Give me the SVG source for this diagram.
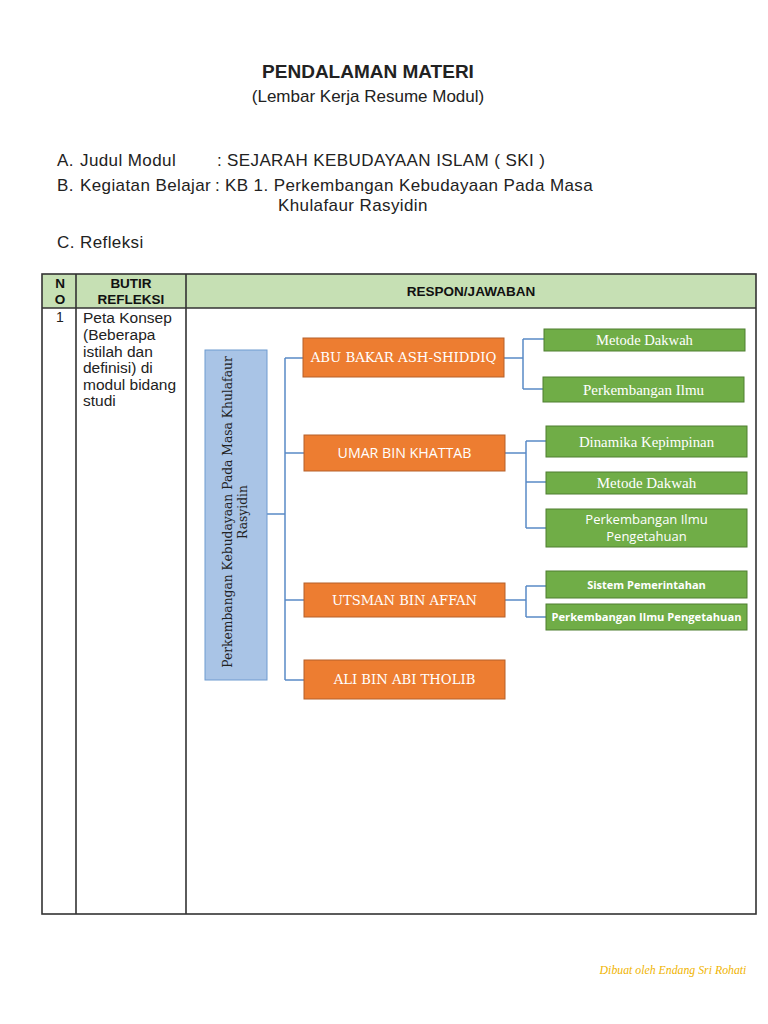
<svg xmlns="http://www.w3.org/2000/svg" width="768" height="1024" viewBox="0 0 768 1024">
<style>
.t{font-family:"Liberation Sans",Arial,sans-serif;fill:#222}
.b{font-size:17px;letter-spacing:0.4px}
.hd{font-family:"Liberation Sans",Arial,sans-serif;font-weight:bold;font-size:13.5px;fill:#111}
.grid{stroke:#333;stroke-width:1.6;fill:none}
.org{fill:#ed7d31;stroke:#b5602a;stroke-width:1}
.grn{fill:#70ad47;stroke:#4f7f30;stroke-width:1}
.serif{font-family:"DejaVu Serif","Liberation Serif",serif;fill:#fff}
.gser{font-family:"Liberation Serif",serif;fill:#fff}
.sans{font-family:"Open Sans","Liberation Sans",sans-serif;fill:#fff}
.cond{font-family:"Open Sans","Liberation Sans",sans-serif;fill:#fff;font-weight:bold}
.con{stroke:#5a8ac6;stroke-width:1.5;fill:none}
</style>
<rect width="768" height="1024" fill="#fff"/>
<text class="t" x="368" y="78" font-size="19" font-weight="bold" text-anchor="middle" fill="#111">PENDALAMAN MATERI</text>
<text class="t" x="368" y="102" font-size="17" text-anchor="middle">(Lembar Kerja Resume Modul)</text>
<text class="t b" x="57" y="166">A.</text>
<text class="t b" x="80" y="166">Judul Modul</text>
<text class="t b" x="217" y="166">:</text>
<text class="t b" x="227" y="166">SEJARAH KEBUDAYAAN ISLAM ( SKI )</text>
<text class="t b" x="57" y="191">B.</text>
<text class="t b" x="80" y="191">Kegiatan Belajar</text>
<text class="t b" x="215" y="191">:</text>
<text class="t b" x="225" y="191">KB 1. Perkembangan Kebudayaan Pada Masa</text>
<text class="t b" x="278" y="211">Khulafaur Rasyidin</text>
<text class="t b" x="57" y="248">C.</text>
<text class="t b" x="80" y="248">Refleksi</text>

<g id="table">
<rect x="42" y="274" width="714" height="34" fill="#c6e0b4"/>
<rect class="grid" x="42" y="274" width="714" height="640"/>
<line class="grid" x1="42" y1="308" x2="756" y2="308"/>
<line class="grid" x1="76" y1="274" x2="76" y2="914"/>
<line class="grid" x1="186" y1="274" x2="186" y2="914"/>
<text class="hd" x="60" y="288" text-anchor="middle">N</text>
<text class="hd" x="60" y="304" text-anchor="middle">O</text>
<text class="hd" x="131" y="288" text-anchor="middle">BUTIR</text>
<text class="hd" x="131" y="304" text-anchor="middle">REFLEKSI</text>
<text class="hd" x="471" y="296" text-anchor="middle">RESPON/JAWABAN</text>
<text class="t" x="60" y="322" font-size="14" text-anchor="middle">1</text>
<text class="t" font-size="15.5"><tspan x="83" y="323">Peta Konsep</tspan><tspan x="83" y="340">(Beberapa</tspan><tspan x="83" y="357">istilah dan</tspan><tspan x="83" y="373">definisi) di</tspan><tspan x="83" y="390">modul bidang</tspan><tspan x="83" y="406">studi</tspan></text>
</g>

<g id="connectors">
<path class="con" d="M267 514H285M285 358V680M285 358H303M285 453H304M285 600H304M285 680H304"/>
<path class="con" d="M504 358H523M523 339V389M523 339H544M523 389H543"/>
<path class="con" d="M505 453H526M526 441V528M526 441H546M526 482H546M526 528H546"/>
<path class="con" d="M505 600H526M526 586V617M526 586H546M526 617H546"/>
</g>

<g id="root">
<rect x="205" y="350" width="62" height="330" fill="#a9c4e6" stroke="#6f9bd0" stroke-width="1"/>
<text transform="translate(236,512) rotate(-90)" font-family="'DejaVu Serif','Liberation Serif',serif" font-size="12.3" fill="#222" text-anchor="middle"><tspan x="0" y="-4">Perkembangan Kebudayaan Pada Masa Khulafaur</tspan><tspan x="0" y="11">Rasyidin</tspan></text>
</g>

<g id="abubakar"><rect class="org" x="303" y="338" width="201" height="39"/><text class="serif" x="403.5" y="362" font-size="13.3" text-anchor="middle">ABU BAKAR ASH-SHIDDIQ</text></g>
<g id="umar"><rect class="org" x="304" y="435" width="201" height="36"/><text class="sans" x="404.5" y="458" font-size="14.2" text-anchor="middle">UMAR BIN KHATTAB</text></g>
<g id="utsman"><rect class="org" x="304" y="583" width="201" height="34"/><text class="serif" x="404.5" y="605" font-size="13.1" text-anchor="middle">UTSMAN BIN AFFAN</text></g>
<g id="ali"><rect class="org" x="304" y="660" width="201" height="39"/><text class="serif" x="404.5" y="684" font-size="13.2" text-anchor="middle">ALI BIN ABI THOLIB</text></g>

<g id="ab1"><rect class="grn" x="544" y="329" width="201" height="22"/><text class="gser" x="644.5" y="345" font-size="14.6" text-anchor="middle">Metode Dakwah</text></g>
<g id="ab2"><rect class="grn" x="543" y="377" width="201" height="25"/><text class="gser" x="643.5" y="395" font-size="15" text-anchor="middle">Perkembangan Ilmu</text></g>
<g id="um1"><rect class="grn" x="546" y="426" width="201" height="31"/><text class="gser" x="646.5" y="447" font-size="14.8" text-anchor="middle">Dinamika Kepimpinan</text></g>
<g id="um2"><rect class="grn" x="546" y="472" width="201" height="22"/><text class="gser" x="646.5" y="488" font-size="15" text-anchor="middle">Metode Dakwah</text></g>
<g id="um3"><rect class="grn" x="546" y="509" width="201" height="38"/><text class="sans" x="646.5" y="524" font-size="13" text-anchor="middle">Perkembangan Ilmu</text><text class="sans" x="646.5" y="541" font-size="13" text-anchor="middle">Pengetahuan</text></g>
<g id="ut1"><rect class="grn" x="546" y="571" width="201" height="27"/><text class="cond" x="646.5" y="589" font-size="11" text-anchor="middle">Sistem Pemerintahan</text></g>
<g id="ut2"><rect class="grn" x="546" y="604" width="201" height="26"/><text class="cond" x="646.5" y="621" font-size="10" text-anchor="middle" textLength="190" lengthAdjust="spacingAndGlyphs">Perkembangan Ilmu Pengetahuan</text></g>

<text x="673" y="974" font-family="'Liberation Serif',serif" font-style="italic" font-size="11.8" fill="#f0b400" text-anchor="middle">Dibuat oleh Endang Sri Rohati</text>
</svg>
